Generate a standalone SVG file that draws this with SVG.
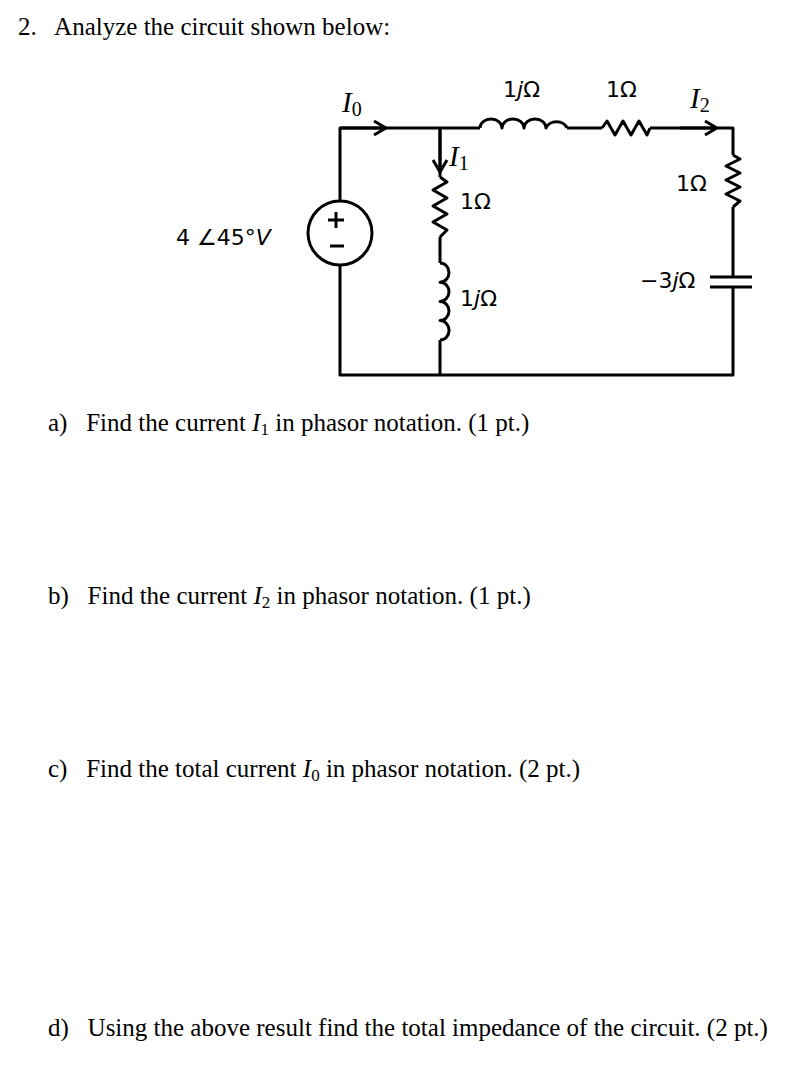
<svg xmlns="http://www.w3.org/2000/svg" width="810" height="1089" viewBox="0 0 810 1089">
<style>
.w{fill:none;stroke:#000;stroke-width:3;stroke-linejoin:round}
.t{font-family:"Liberation Serif",serif;font-size:25px;fill:#000;white-space:pre}
.m{font-family:"DejaVu Sans","Liberation Sans",sans-serif;font-size:22px;fill:#000}
.i{font-family:"Liberation Serif",serif;font-style:italic;font-size:29px;fill:#000}
</style>
<rect width="810" height="1089" fill="#fff"/>
<text class="t" x="18" y="35" xml:space="preserve">2.   Analyze the circuit shown below:</text>
<g id="connectors">
<path class="w" d="M340,200 V128 H480 M567,128 H602 M650,128 H733 V155 M733,207 V277 M733,287 V375 H340 V266"/>
<path class="w" d="M440,128 V177 M440,237 V263 M440,340 V375"/>
<path class="w" d="M340,128 H385 M374,121 L386,128 L374,135"/>
<path class="w" d="M680,128 H716 M705,121 L717,128 L705,135"/>
<path class="w" d="M440,128 V172 M433,160 L440,172 L447,160"/>
</g>
<g id="source"><circle class="w" cx="340" cy="233" r="32"/>
<path class="w" stroke-width="2" d="M336,212 v16 M328,220 h16 M330,246 h14"/></g>
<g id="L1"><path class="w" d="M480,128 a11,9 0 0 1 22,0 a11,9 0 0 1 22,0 a11,9 0 0 1 22,0 a11,9 0 0 1 21,0"/></g>
<g id="R1"><path class="w" stroke-width="2" d="M602,128 l5,-7 l8,14 l8,-14 l8,14 l8,-14 l8,14 l3,-7"/></g>
<g id="R2"><path class="w" stroke-width="2" d="M440,177 l7,5 l-14,8 l14,8 l-14,8 l14,8 l-14,8 l14,8 l-7,7"/></g>
<g id="L2"><path class="w" d="M440,263 a9,9.6 0 0 1 0,19.2 a9,9.6 0 0 1 0,19.2 a9,9.6 0 0 1 0,19.2 a9,9.6 0 0 1 0,19.4"/></g>
<g id="R3"><path class="w" stroke-width="2" d="M733,155 l7,4 l-14,7 l14,7 l-14,7 l14,7 l-14,7 l14,7 l-7,6"/></g>
<g id="C"><path class="w" d="M710,277 H752 M710,287 H752"/></g>
<g id="labels">
<text class="i" x="342" y="112">I<tspan font-size="20" font-style="normal" dy="4">0</tspan></text>
<text class="i" x="449" y="166">I<tspan font-size="20" font-style="normal" dy="4">1</tspan></text>
<text class="i" x="690" y="108">I<tspan font-size="20" font-style="normal" dy="4">2</tspan></text>
<text class="m" x="503" y="97">1<tspan font-style="italic">j</tspan>Ω</text>
<text class="m" x="606" y="97">1Ω</text>
<text class="m" x="460" y="209">1Ω</text>
<text class="m" x="460" y="306">1<tspan font-style="italic">j</tspan>Ω</text>
<text class="m" x="676" y="191">1Ω</text>
<text class="m" x="640" y="288">−3<tspan font-style="italic">j</tspan>Ω</text>
<text class="m" x="176" y="245">4 ∠45°<tspan font-style="italic">V</tspan></text>
</g>
<text class="t" x="48" y="431" xml:space="preserve">a)   Find the current <tspan font-style="italic">I</tspan><tspan font-size="17" dy="4">1</tspan><tspan dy="-4"> in phasor notation. (1 pt.)</tspan></text>
<text class="t" x="48" y="604" xml:space="preserve">b)   Find the current <tspan font-style="italic">I</tspan><tspan font-size="17" dy="4">2</tspan><tspan dy="-4"> in phasor notation. (1 pt.)</tspan></text>
<text class="t" x="48" y="777" xml:space="preserve">c)   Find the total current <tspan font-style="italic">I</tspan><tspan font-size="17" dy="4">0</tspan><tspan dy="-4"> in phasor notation. (2 pt.)</tspan></text>
<text class="t" x="48" y="1036" xml:space="preserve">d)   Using the above result find the total impedance of the circuit. (2 pt.)</text>
</svg>
